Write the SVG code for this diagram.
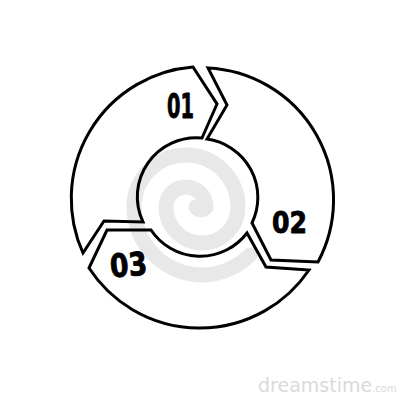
<svg xmlns="http://www.w3.org/2000/svg" width="400" height="400" viewBox="0 0 400 400">
  <style>
    .seg { fill: none; stroke: #000; stroke-width: 3; stroke-linejoin: miter; stroke-linecap: round; }
    .lbl { font-family: "DejaVu Sans", "Liberation Sans", sans-serif; font-weight: bold; fill: #000; stroke: #000; stroke-width: 0.9; stroke-linejoin: round; }
    .wm { fill: none; stroke: #e8e8e8; stroke-width: 15; stroke-linecap: round; }
    .wmt { font-family: "DejaVu Sans", "Liberation Sans", sans-serif; fill: #dadada; }
  </style>
  <rect width="400" height="400" fill="#fff"/>
  <g id="watermark">
    <path class="wm" d="M 250,255 A 68 68 0 0 1 134,207 A 52 52 0 0 1 238,207 A 36 36 0 0 1 166,207 A 20 20 0 0 1 206,207 A 6 6 0 0 1 196,207"/>
    <text class="wmt" x="258" y="392" font-size="19">dreamstime<tspan font-size="10">.com</tspan></text>
  </g>
  <g id="seg01">
    <path class="seg" d="M 83,253 A 132 132 0 0 1 193,67 L 217,104 L 202,138 A 59 59 0 0 0 143,222 L 104,221 Z"/>
    <text class="lbl" x="167" y="118" font-size="33" textLength="27" lengthAdjust="spacingAndGlyphs">01</text>
  </g>
  <g id="seg02">
    <path class="seg" d="M 208,68 A 132 132 0 0 1 318,262 L 271,260 L 252,223 A 59 59 0 0 0 207,139 L 227,105 Z"/>
    <text class="lbl" x="272" y="233" font-size="31" textLength="35" lengthAdjust="spacingAndGlyphs">02</text>
  </g>
  <g id="seg03">
    <path class="seg" d="M 309,270 A 132 132 0 0 1 89,268 L 107,230 L 151,230 A 59 59 0 0 0 247,233 L 266,267 Z"/>
    <text class="lbl" x="110" y="276" font-size="32" textLength="37" lengthAdjust="spacingAndGlyphs" transform="rotate(-5 128 264)">03</text>
  </g>
</svg>
